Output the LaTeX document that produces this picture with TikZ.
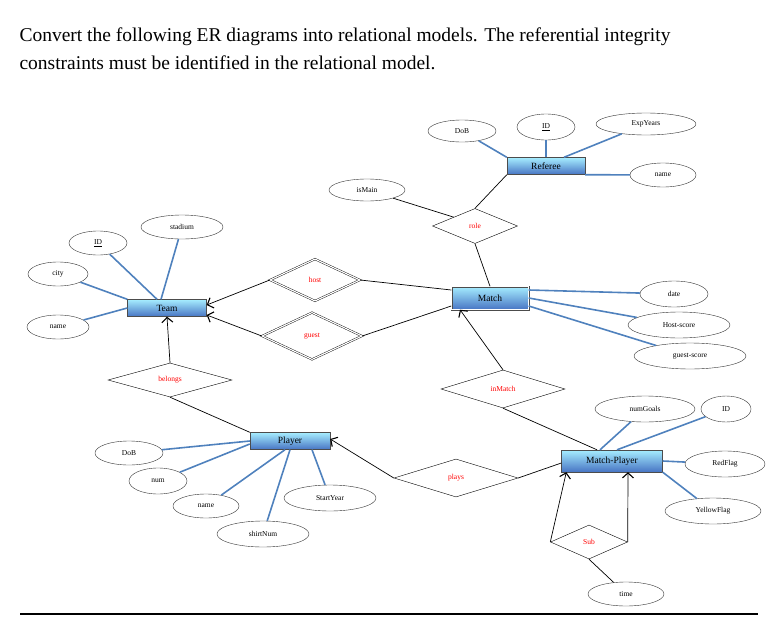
\documentclass[tikz,border=0pt]{standalone}
\usepackage{fontspec}
\setmainfont{Liberation Serif}
\usetikzlibrary{shapes.geometric,arrows.meta}

\definecolor{attrblue}{HTML}{4F81BD}
\tikzset{
  attr/.style={ellipse,draw=black!80,thin,inner sep=0pt,font=\fontsize{7.5}{8}\selectfont},
  entity/.style={rectangle,draw=black!70,inner sep=0pt,top color=blue!20!cyan!35,
    bottom color=attrblue!90!blue,font=\fontsize{9.5}{10}\selectfont},
  rel/.style={diamond,draw=black,inner sep=0pt,text=red,font=\fontsize{7.5}{8}\selectfont},
  attrline/.style={draw=attrblue,line width=1.6pt},
  link/.style={draw=black,line width=0.7pt},
  arr/.style={draw=black,line width=0.7pt,-{Straight Barb[length=5pt,width=11pt,line width=1.1pt]}}
}

\begin{document}
\begin{tikzpicture}[x=1pt,y=-1pt]
  \useasboundingbox (0,0) rectangle (780,640);

  % task text
  \node[anchor=west,font=\fontsize{19.5}{21}\selectfont] (line1) at (16,37)
    {Convert the following ER diagrams into relational models. The referential integrity};
  \node[anchor=west,font=\fontsize{19.5}{21}\selectfont] (line2) at (16,63)
    {constraints must be identified in the relational model.};
  \coordinate (ruleL) at (20,614);
  \coordinate (ruleR) at (758,614);
  \draw[line width=1.2pt] (ruleL) -- (ruleR);

  % entities
  \node[entity,minimum width=78,minimum height=17] (referee) at (546,166) {Referee};
  \node[entity,double,double distance=1.2pt,minimum width=77,minimum height=23] (match) at (490,298) {Match};
  \node[entity,minimum width=79,minimum height=17] (team) at (167,308) {Team};
  \node[entity,minimum width=80,minimum height=17] (player) at (290,441) {Player};
  \node[entity,minimum width=101,minimum height=22] (mplayer) at (612,461) {Match-Player};

  % relationships
  \node[rel,minimum width=85,minimum height=35,aspect=2.4] (role) at (475,226) {role};
  \node[rel,double,double distance=1.2pt,minimum width=90,minimum height=42,aspect=2.1] (host) at (315,280) {host};
  \node[rel,double,double distance=1.2pt,minimum width=100,minimum height=47,aspect=2.1] (guest) at (312,336) {guest};
  \node[rel,minimum width=124,minimum height=34,aspect=3.6] (belongs) at (170,380) {belongs};
  \node[rel,minimum width=124,minimum height=38,aspect=3.3] (inmatch) at (503,389) {inMatch};
  \node[rel,minimum width=124,minimum height=38,aspect=3.3] (plays) at (456,478) {plays};
  \node[rel,minimum width=77,minimum height=34,aspect=2.3] (sub) at (589,542) {Sub};

  % attributes
  \node[attr,minimum width=68,minimum height=22] (refdob) at (462,131) {DoB};
  \node[attr,minimum width=58,minimum height=26] (refid) at (546,127) {\underline{ID}};
  \node[attr,minimum width=100,minimum height=22] (refexp) at (646,124) {ExpYears};
  \node[attr,minimum width=66,minimum height=24] (refname) at (663,175) {name};
  \node[attr,minimum width=76,minimum height=22] (ismain) at (367,190) {isMain};

  \node[attr,minimum width=82,minimum height=24] (tstadium) at (182,227) {stadium};
  \node[attr,minimum width=58,minimum height=24] (tid) at (98,243) {\underline{ID}};
  \node[attr,minimum width=60,minimum height=24] (tcity) at (58,274) {city};
  \node[attr,minimum width=62,minimum height=24] (tname) at (58,327) {name};

  \node[attr,minimum width=68,minimum height=26] (mdate) at (674,294) {date};
  \node[attr,minimum width=102,minimum height=26] (mhost) at (679,325) {Host-score};
  \node[attr,minimum width=112,minimum height=26] (mguest) at (690,356) {guest-score};

  \node[attr,minimum width=68,minimum height=24] (pdob) at (129,453) {DoB};
  \node[attr,minimum width=58,minimum height=26] (pnum) at (158,481) {num};
  \node[attr,minimum width=66,minimum height=24] (pname) at (206,506) {name};
  \node[attr,minimum width=92,minimum height=26] (pshirt) at (263,534) {shirtNum};
  \node[attr,minimum width=92,minimum height=26] (pstart) at (330,498) {StartYear};

  \node[attr,minimum width=100,minimum height=26] (mpgoals) at (645,409) {numGoals};
  \node[attr,minimum width=50,minimum height=26] (mpid) at (726,409) {ID};
  \node[attr,minimum width=80,minimum height=26] (mpred) at (725,464) {RedFlag};
  \node[attr,minimum width=96,minimum height=26] (mpyellow) at (713,511) {YellowFlag};
  \node[attr,minimum width=76,minimum height=24] (subtime) at (626,594) {time};

  % attribute lines
  \draw[attrline] (refdob) -- (referee.north west);
  \draw[attrline] (refid) -- (referee.north);
  \draw[attrline] (refexp) -- ([xshift=18]referee.north);
  \draw[attrline] (refname) -- (referee.south east);
  \draw[attrline] (tstadium) -- ([xshift=-6]team.north);
  \draw[attrline] (tid) -- ([xshift=-10]team.north);
  \draw[attrline] (tcity) -- (team.north west);
  \draw[attrline] (tname) -- (team.west);
  \draw[attrline] (mdate) -- ([yshift=8]match.east);
  \draw[attrline] (mhost) -- (match.east);
  \draw[attrline] (mguest) -- ([yshift=-8]match.east);
  \draw[attrline] (pdob) -- (player.west);
  \draw[attrline] (pnum) -- ([yshift=-3]player.west);
  \draw[attrline] (pname) -- ([xshift=-5]player.south);
  \draw[attrline] (pshirt) -- (player.south);
  \draw[attrline] (pstart) -- ([xshift=22]player.south);
  \draw[attrline] (mpgoals) -- ([xshift=-12]mplayer.north);
  \draw[attrline] (mpid) -- ([xshift=5]mplayer.north);
  \draw[attrline] (mpred) -- (mplayer.east);
  \draw[attrline] (mpyellow) -- (mplayer.south east);

  % relationship links
  \draw[link] (referee.south west) -- (role.north);
  \draw[link] (role.south) -- (match.north);
  \draw[link] (ismain) -- (role.north west);
  \draw[link] (host.east) -- ([yshift=8]match.west);
  \draw[link] (guest.east) -- ([yshift=-8]match.west);
  \draw[link] (belongs.south) -- (player.north west);
  \draw[link] (inmatch.south) -- ([xshift=-15]mplayer.north);
  \draw[link] (plays.east) -- ([yshift=-2]mplayer.west);
  \draw[link] (sub.south) -- (subtime);
  \draw[arr] (host.west) -- ([yshift=3]team.east);
  \draw[arr] (guest.west) -- ([yshift=-7]team.east);
  \draw[arr] (belongs.north) -- (team.south);
  \draw[arr] (inmatch.north) -- ([xshift=-30]match.south);
  \draw[arr] (plays.west) -- ([yshift=2]player.east);
  \draw[arr] (sub.west) -- ([xshift=5]mplayer.south west);
  \draw[arr] (sub.east) -- ([xshift=16]mplayer.south);
\end{tikzpicture}
\end{document}
